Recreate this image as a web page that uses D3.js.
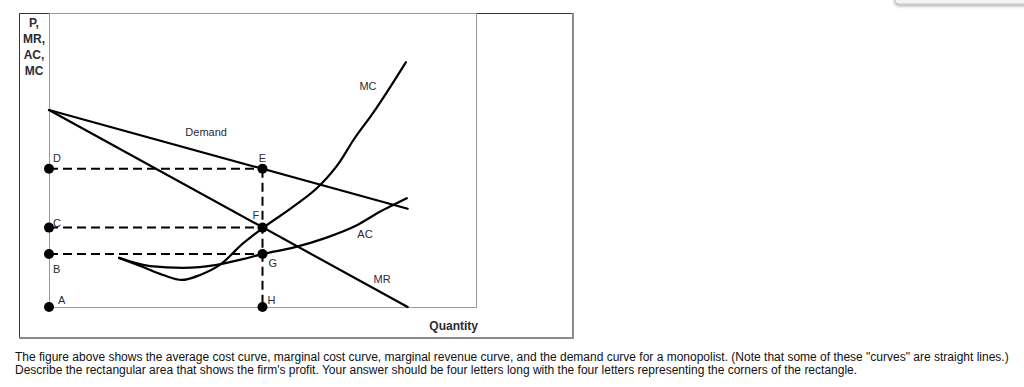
<!DOCTYPE html>
<html>
<head>
<meta charset="utf-8">
<script src="https://cdn.jsdelivr.net/npm/d3@7"></script>
<style>
  body { margin: 0; background: #fff; }
  svg text { font-family: "Liberation Sans", Arial, sans-serif; }
</style>
</head>
<body>
<div id="chart"></div>
<script>
const width = 1024;
const height = 387;

// curves as [quantity, price] pairs
const demandLine = [[0, 67], [84, 33.4]];
const mrLine = [[0, 67], [84, 0]];
const mcCurve = [
  [16.4, 16.7], [22, 13.6], [26.7, 10.9], [31.1, 9.2], [35.4, 10.9],
  [40, 14.3], [45.5, 21.7], [50, 26.8], [57.2, 34.1], [63.5, 41.5],
  [68.1, 49.4], [71.3, 56.8], [75.9, 66], [79.9, 74.8], [83.6, 83.3],
];
const acCurve = [
  [16.4, 16.7], [23.7, 13.9], [31.4, 13.3], [39.3, 14.3], [45.4, 16.3],
  [50, 18], [57.2, 20.2], [65, 23.6], [72.1, 27.8], [77.5, 32.4], [80.6, 34.7], [83.8, 37],
];

// the lettered points
const pointNames = ["A", "B", "C", "D", "E", "F", "G", "H"];
const pointQ = [0, 0, 0, 0, 50, 50, 50, 50];
const pointP = [0, 18, 27, 47, 47, 27, 18, 0];

// curve names and where they sit
const curveNames = ["Demand", "MC", "AC", "MR"];
const curveLabelQ = [36.8, 74.7, 74, 78];
const curveLabelP = [58.2, 73.8, 23.5, 8.2];

const yAxisLabel = ["P,", "MR,", "AC,", "MC"];
const xAxisLabel = "Quantity";

const caption = [
  "The figure above shows the average cost curve, marginal cost curve, marginal revenue curve, and the demand curve for a monopolist. (Note that some of these \"curves\" are straight lines.)",
  "Describe the rectangular area that shows the firm's profit. Your answer should be four letters long with the four letters representing the corners of the rectangle.",
];

// label nudges in px, per point letter
const labelNudge = {
  A: [9, -3, "start"], B: [4, 19, "start"], C: [4, -1, "start"], D: [4, -7, "start"],
  E: [0, -7, "middle"], F: [-10, -9, "start"], G: [6, 13, "start"], H: [5, -3, "start"],
};

const svg = d3.select("#chart").append("svg")
  .attr("width", width)
  .attr("height", height);

const x = d3.scaleLinear().domain([0, 100]).range([49, 476]);
const y = d3.scaleLinear().domain([0, 100]).range([307, 13]);

function drawFrame() {
  // little widget peeking in at the top right
  const defs = svg.append("defs");
  const f = defs.append("filter").attr("id", "shadow")
    .attr("x", "-10%").attr("y", "-50%").attr("width", "120%").attr("height", "250%");
  f.append("feDropShadow").attr("dx", 0).attr("dy", 1.5).attr("stdDeviation", 1.5)
    .attr("flood-color", "#000").attr("flood-opacity", 0.35);
  svg.append("rect")
    .attr("x", 895).attr("y", -10).attr("width", 140).attr("height", 14)
    .attr("rx", 4)
    .attr("fill", "#f4f4f4").attr("stroke", "#c4c4c4")
    .attr("filter", "url(#shadow)");

  // outer box: dark top/left, grey bottom/right
  svg.append("path").attr("d", "M19.5,338V13.5H573")
    .attr("fill", "none").attr("stroke", "#333").attr("stroke-width", 1);
  svg.append("path").attr("d", "M573,13V338H19")
    .attr("fill", "none").attr("stroke", "#8a8a8a").attr("stroke-width", 2);

  // plot box
  svg.append("rect")
    .attr("x", x(0) + 0.5).attr("y", y(100) + 0.5)
    .attr("width", x(100) - x(0)).attr("height", y(0) - y(100))
    .attr("fill", "none").attr("stroke", "#9a9a9a");

  svg.append("text")
    .attr("text-anchor", "middle")
    .attr("font-size", 12).attr("font-weight", "bold").attr("fill", "#2b2b33")
    .selectAll("tspan").data(yAxisLabel).join("tspan")
    .attr("x", 34).attr("y", (d, i) => 27 + i * 16)
    .text(d => d);

  svg.append("text")
    .attr("x", 478).attr("y", 330).attr("text-anchor", "end")
    .attr("font-size", 12).attr("font-weight", "bold").attr("fill", "#2b2b33")
    .text(xAxisLabel);
}

function drawCurves() {
  const straight = d3.line().x(d => x(d[0])).y(d => y(d[1]));
  const smooth = d3.line().x(d => x(d[0])).y(d => y(d[1])).curve(d3.curveMonotoneX);

  const g = svg.append("g").attr("fill", "none").attr("stroke", "#000")
    .attr("stroke-width", 2.2).attr("stroke-linecap", "round");
  g.append("path").attr("d", straight(demandLine));
  g.append("path").attr("d", straight(mrLine));
  g.append("path").attr("d", smooth(mcCurve));
  g.append("path").attr("d", smooth(acCurve));

  svg.append("g").attr("font-size", 11).attr("fill", "#2b2b33").attr("text-anchor", "middle")
    .selectAll("text").data(curveNames).join("text")
    .attr("x", (d, i) => x(curveLabelQ[i]))
    .attr("y", (d, i) => y(curveLabelP[i]))
    .text(d => d);
}

function drawPoints() {
  const pts = pointNames.map((n, i) => ({ name: n, q: pointQ[i], p: pointP[i] }));
  const byName = Object.fromEntries(pts.map(d => [d.name, d]));

  // dashed guides: D-E, C-F, B-G across, E down to H
  const guides = [["D", "E"], ["C", "F"], ["B", "G"], ["E", "H"]];
  svg.append("g").attr("stroke", "#000").attr("stroke-width", 2)
    .attr("stroke-dasharray", "9,5")
    .selectAll("line").data(guides).join("line")
    .attr("x1", d => x(byName[d[0]].q)).attr("y1", d => y(byName[d[0]].p))
    .attr("x2", d => x(byName[d[1]].q)).attr("y2", d => y(byName[d[1]].p));

  svg.append("g").selectAll("circle").data(pts).join("circle")
    .attr("cx", d => x(d.q)).attr("cy", d => y(d.p))
    .attr("r", 5).attr("fill", "#000");

  svg.append("g").attr("font-size", 11).attr("fill", "#2b2b33")
    .selectAll("text").data(pts).join("text")
    .attr("x", d => x(d.q) + labelNudge[d.name][0])
    .attr("y", d => y(d.p) + labelNudge[d.name][1])
    .attr("text-anchor", d => labelNudge[d.name][2])
    .text(d => d.name);
}

function drawCaption() {
  svg.append("g").attr("font-size", 12).attr("fill", "#111")
    .selectAll("text").data(caption).join("text")
    .attr("x", 15).attr("y", (d, i) => 361 + i * 13)
    .text(d => d);
}

drawFrame();
drawCurves();
drawPoints();
drawCaption();
</script>
</body>
</html>
